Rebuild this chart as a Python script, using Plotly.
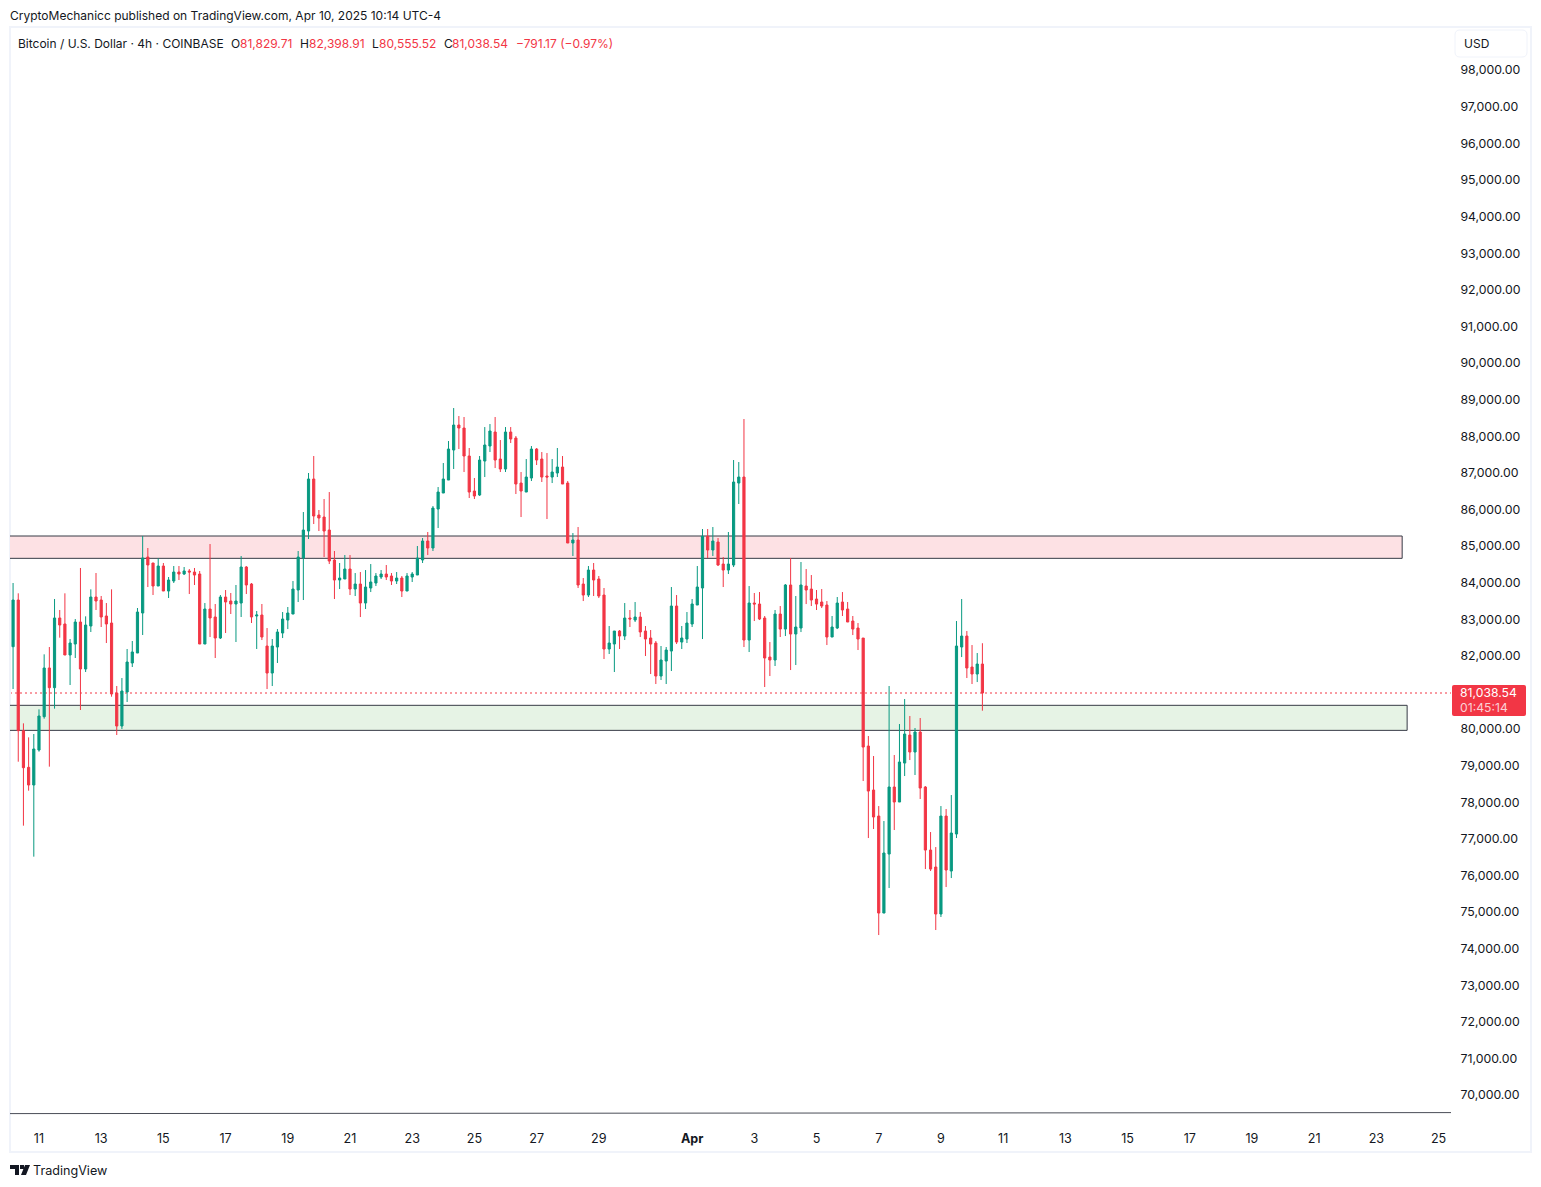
import pandas as pd
import plotly.graph_objects as go

# 4h candles
opens = [82304, 83579, 80009, 79008, 78525, 79481, 80392, 81722, 81184, 83088, 82924, 82077,
         82377, 82978, 81694, 82869, 83661, 83579, 83142, 82951, 81038, 80137, 81066, 81858,
         82131, 83224, 84754, 84590, 83962, 84508, 83825, 84098, 84344, 84290, 84372, 84344,
         84290, 82377, 83333, 83115, 82541, 83661, 83552, 83470, 83497, 84481, 84016, 83142,
         83169, 82322, 81584, 82295, 82677, 83032, 83196, 83852, 84726, 85464, 86885, 85901,
         85846, 85491, 84672, 84125, 84153, 84426, 83879, 84016, 83497, 83907, 84043, 84207,
         84289, 84235, 84098, 84180, 83825, 84207, 84262, 84672, 85191, 85000, 86065, 86502,
         86857, 87677, 88360, 88278, 87513, 86557, 86448, 87376, 87786, 88169, 87431, 87158,
         88169, 88005, 86775, 86529, 86912, 87704, 87431, 86967, 86939, 87049, 87212, 86775,
         85136, 85218, 84016, 83715, 84398, 84153, 83715, 82240, 82377, 82732, 82595, 83087,
         83032, 83114, 82732, 82541, 82404, 81502, 81912, 82185, 83415, 82431, 82513, 82923,
         83442, 83907, 85318, 84945, 85163, 84562, 84398, 84535, 86775, 86939, 82486, 83497,
         83470, 83087, 82021, 81940, 83196, 82786, 83989, 82650, 82814, 83961, 83879, 83606,
         83524, 83442, 82568, 82814, 83524, 83333, 83005, 82814, 82540, 79590, 78388, 77677,
         75027, 76639, 78470, 78060, 79125, 79890, 79426, 79972, 78470, 76748, 76284, 75000,
         77677, 76175, 77186, 82295, 82595, 81748, 81557, 81829.71]
highs = [84044, 83762, 80210, 79827, 79918, 80592, 82095, 82295, 83607, 83306, 83762, 82514,
         83060, 84454, 83133, 83871, 84317, 83689, 83497, 83871, 81230, 81448, 82241, 82459,
         83361, 85328, 85000, 84590, 84718, 84590, 84208, 84508, 84508, 84481, 84426, 84454,
         84372, 83497, 85109, 83470, 83716, 83852, 83771, 83989, 84781, 84508, 84044, 83279,
         83470, 82814, 82513, 82786, 83251, 83388, 84098, 84918, 85983, 87049, 87513, 86038,
         86338, 86529, 84918, 84590, 84808, 84808, 84316, 84344, 84398, 84562, 84316, 84398,
         84535, 84316, 84344, 84235, 84316, 84344, 85054, 85273, 85437, 86147, 86666, 87322,
         87923, 88824, 88606, 88579, 87732, 86912, 87513, 88305, 88387, 88579, 87950, 88305,
         88305, 88059, 87076, 87431, 87786, 87732, 87622, 87595, 87431, 87732, 87513, 86830,
         85409, 85573, 84180, 84508, 84590, 84235, 83907, 82869, 82732, 82759, 83497, 83306,
         83524, 83251, 82869, 82759, 82459, 82322, 82295, 83934, 83715, 82869, 83251, 83606,
         84508, 85519, 85519, 85573, 85273, 84753, 85437, 87404, 87349, 88524, 83961, 83770,
         83797, 83142, 82431, 83306, 83415, 84016, 84726, 83688, 84617, 84426, 84262, 83852,
         83879, 83551, 83142, 83661, 83797, 83524, 83142, 82950, 82540, 79863, 79317, 77950,
         77541, 81229, 79344, 80191, 80874, 80410, 80082, 80355, 78497, 77240, 76830, 77950,
         77869, 78251, 83005, 83606, 82732, 82349, 82131, 82398.91]
lows = [81148, 79162, 77414, 78370, 76567, 79436, 80337, 79026, 80611, 82550, 82077, 81257,
        81995, 80574, 81612, 82705, 83306, 82842, 82404, 80938, 79891, 80055, 80793, 81749,
        82131, 82623, 83934, 83716, 83962, 83825, 83634, 84044, 84126, 84262, 83743, 83989,
        82377, 82377, 82568, 81995, 82514, 82678, 83197, 82432, 83115, 83743, 82951, 82241,
        82486, 81147, 81229, 81858, 82540, 82786, 83196, 83524, 83579, 85245, 85655, 85464,
        84753, 84562, 83606, 83879, 84153, 83715, 83688, 83114, 83333, 83797, 83961, 84153,
        84125, 83989, 84016, 83661, 83825, 84071, 84262, 84590, 84808, 84918, 85546, 86502,
        86857, 87158, 87704, 87076, 86366, 86338, 86420, 86939, 87622, 87185, 87076, 87076,
        87868, 86475, 85846, 86529, 86830, 87267, 86803, 85792, 86775, 86939, 86748, 85136,
        84781, 83907, 83551, 83661, 83688, 83633, 81967, 82104, 81612, 82240, 82486, 82841,
        82978, 82568, 82049, 81557, 81284, 81393, 81284, 81639, 82377, 82240, 82404, 82841,
        83442, 82513, 84726, 84781, 84508, 83934, 84289, 84480, 86202, 82295, 82158, 83005,
        83032, 81202, 81502, 81776, 82568, 82595, 81666, 81803, 82704, 83469, 83415, 83306,
        83360, 82349, 82568, 82786, 83142, 82978, 82622, 82213, 78634, 77076, 77322, 74426,
        75027, 75710, 77295, 78060, 78770, 79207, 78798, 78142, 76229, 76175, 74563, 74918,
        75738, 75983, 77076, 82021, 81448, 81284, 81338, 80555.52]
closes = [83579, 80009, 78998, 78525, 79509, 80410, 81722, 81184, 83088, 82896, 82077, 82404,
          82978, 81694, 82896, 83661, 83552, 83115, 82924, 81011, 80137, 81093, 81885, 82159,
          83251, 84727, 84536, 83962, 84508, 83825, 84126, 84344, 84290, 84372, 84344, 84262,
          82377, 83333, 83088, 82541, 83661, 83525, 83470, 83552, 84481, 83989, 83115, 83169,
          82568, 81584, 82322, 82705, 83060, 83224, 83879, 84753, 85491, 86885, 85874, 85819,
          85464, 84644, 84125, 84180, 84426, 83879, 84016, 83497, 83934, 84071, 84235, 84289,
          84207, 84098, 84180, 83825, 84235, 84289, 84726, 85191, 85000, 86092, 86529, 86885,
          87704, 88360, 88278, 87513, 86529, 86420, 87404, 87814, 88196, 87404, 87158, 88169,
          87978, 86748, 86557, 86939, 87704, 87404, 86939, 86939, 87076, 87212, 86748, 85136,
          85218, 83989, 83715, 84398, 84125, 83688, 82240, 82404, 82732, 82595, 83087, 83060,
          83114, 82705, 82513, 82377, 81502, 81940, 82213, 83415, 82431, 82541, 82950, 83470,
          83934, 85318, 84945, 85191, 84535, 84398, 84562, 86803, 86939, 82486, 83497, 83470,
          83060, 81994, 81940, 83196, 82786, 83989, 82650, 82841, 83989, 83852, 83579, 83469,
          83415, 82568, 82841, 83497, 83306, 82978, 82786, 82513, 79562, 78360, 77650, 75027,
          76667, 78470, 78060, 79153, 79918, 79426, 79972, 78442, 76748, 76229, 75000, 77677,
          76202, 77213, 82322, 82595, 81721, 81557, 81830, 81038.54]

times = pd.date_range("2025-03-10 04:00", periods=len(opens), freq="4h")

# 81,000 sits under the price tag in the original, so no label for it
price_ticks = [p for p in range(70000, 99000, 1000) if p != 81000]
date_ticks = ["2025-03-11", "2025-03-13", "2025-03-15", "2025-03-17", "2025-03-19", "2025-03-21",
              "2025-03-23", "2025-03-25", "2025-03-27", "2025-03-29", "2025-04-01", "2025-04-03",
              "2025-04-05", "2025-04-07", "2025-04-09", "2025-04-11", "2025-04-13", "2025-04-15",
              "2025-04-17", "2025-04-19", "2025-04-21", "2025-04-23", "2025-04-25"]
date_labels = ["11", "13", "15", "17", "19", "21", "23", "25", "27", "29", "<b>Apr</b>", "3", "5",
               "7", "9", "11", "13", "15", "17", "19", "21", "23", "25"]

last_price = 81038.54
resistance = (84718, 85328)
support = (80018, 80702)

GREEN = "#089981"
RED = "#f23645"
INK = "#131722"
FONT = "Inter"

# plot box in page pixels; the html body adds an 8px margin around the figure
LEFT, RIGHT, TOP, BOTTOM = 10, 1451, 28, 1113
BODY = 8
WIDTH, HEIGHT = 1541 - BODY, 1187 - BODY


def px(x):
    return (x - LEFT) / (RIGHT - LEFT)


def py(y):
    return (BOTTOM - y) / (BOTTOM - TOP)


def round_rect(x0, y0, x1, y1, r):
    dx, dy = r / (RIGHT - LEFT), r / (BOTTOM - TOP)
    a, b, c, d = px(x0), px(x1), py(y0), py(y1)
    return (f"M{a + dx},{c} L{b - dx},{c} Q{b},{c} {b},{c - dy} L{b},{d + dy} Q{b},{d} {b - dx},{d} "
            f"L{a + dx},{d} Q{a},{d} {a},{d + dy} L{a},{c - dy} Q{a},{c} {a + dx},{c} Z")


def poly(points):
    return "M" + " L".join(f"{px(x)},{py(y)}" for x, y in points) + " Z"


fig = go.Figure(go.Candlestick(
    x=times, open=opens, high=highs, low=lows, close=closes,
    whiskerwidth=0,
    increasing=dict(line=dict(color=GREEN, width=1), fillcolor=GREEN),
    decreasing=dict(line=dict(color=RED, width=1), fillcolor=RED),
))

zone_line = dict(color="#363a45", width=1)
fig.add_shape(type="rect", xref="x", yref="y", x0="2025-03-01", x1="2025-04-23 19:55",
              y0=resistance[0], y1=resistance[1], fillcolor="#fde1e4", line=zone_line, layer="below")
fig.add_shape(type="rect", xref="x", yref="y", x0="2025-03-01", x1="2025-04-23 23:45",
              y0=support[0], y1=support[1], fillcolor="#e6f3e5", line=zone_line, layer="below")
fig.add_shape(type="line", xref="paper", yref="y", x0=0, x1=1, y0=last_price, y1=last_price,
              line=dict(color=RED, width=1, dash="2px,3px"), layer="below")

# frame, bottom line and the price tag
fig.add_shape(type="rect", xref="paper", yref="paper", x0=px(10), x1=px(1531), y0=py(27), y1=py(1152),
              line=dict(color="#f0f3fa", width=2), layer="below")
fig.add_shape(type="line", xref="paper", yref="paper", x0=0, x1=1, y0=py(1113.6), y1=py(1112.6),
              line=dict(color="#4a4d57", width=1))
fig.add_shape(type="path", xref="paper", yref="paper", path=round_rect(1455, 30, 1527, 57, 5),
              line=dict(color="#f0f3fa", width=1))
fig.add_shape(type="path", xref="paper", yref="paper", path=round_rect(1452, 685, 1526, 716, 2),
              fillcolor=RED, line=dict(width=0))
# TradingView logo
for pts in ([(10, 1165), (19, 1165), (19, 1175), (15, 1175), (15, 1169), (10, 1169)],
            [(25, 1165), (30, 1165), (26, 1175), (21, 1175)],
            [(20, 1165), (24, 1165), (24, 1169), (20, 1169)]):
    fig.add_shape(type="path", xref="paper", yref="paper", path=poly(pts), fillcolor=INK, line=dict(width=0))


def label(x, y, text, size=12, color=INK):
    fig.add_annotation(xref="paper", yref="paper", x=px(x), y=py(y), text=text, showarrow=False,
                       xanchor="left", yanchor="middle", align="left", borderpad=0, borderwidth=0,
                       font=dict(family=FONT, size=size, color=color))


label(10, 15.5, "CryptoMechanicc published on TradingView.com, Apr 10, 2025 10:14 UTC-4")
label(18, 43, "Bitcoin / U.S. Dollar · 4h · COINBASE")
label(231, 43, "O")
label(239.5, 43, "81,829.71", color=RED)
label(300, 43, "H")
label(309, 43, "82,398.91", color=RED)
label(372, 43, "L")
label(379, 43, "80,555.52", color=RED)
label(444, 43, "C")
label(452, 43, "81,038.54", color=RED)
label(516, 43, "−791.17 (−0.97%)", color=RED)
label(1464, 43.5, "USD")
label(1460, 692, "81,038.54", size=12.2, color="#ffffff")
label(1460, 707.5, "01:45:14", size=12.2, color="#fbd0d5")
label(33, 1170.5, "TradingView", size=12.6, color=INK)

fig.update_layout(
    width=WIDTH, height=HEIGHT,
    autosize=False,
    margin=dict(l=LEFT - BODY, r=1541 - RIGHT, t=TOP - BODY, b=1187 - BOTTOM, pad=0),
    paper_bgcolor="white",
    plot_bgcolor="white",
    showlegend=False,
    boxmode="overlay",
    boxgap=0.58,
    boxgroupgap=0,
    font=dict(family=FONT, size=12.6, color=INK),
    xaxis=dict(
        type="date", range=["2025-03-10 01:38", "2025-04-25 09:36"],
        rangeslider=dict(visible=False),
        showgrid=False, zeroline=False, showline=False,
        tickmode="array", tickvals=date_ticks, ticktext=date_labels,
        ticks="outside", ticklen=14, tickcolor="rgba(0,0,0,0)",
        tickfont=dict(family=FONT, size=12.6, color=INK),
    ),
    yaxis=dict(
        side="right", range=[69564, 99207],
        showgrid=False, zeroline=False, showline=False,
        tickmode="array", tickvals=price_ticks, tickformat=",.2f",
        ticks="outside", ticklen=6, tickcolor="rgba(0,0,0,0)",
        tickfont=dict(family=FONT, size=12.3, color=INK),
        ticklabelshift=-2,
    ),
)

fig.write_html("out.html")
